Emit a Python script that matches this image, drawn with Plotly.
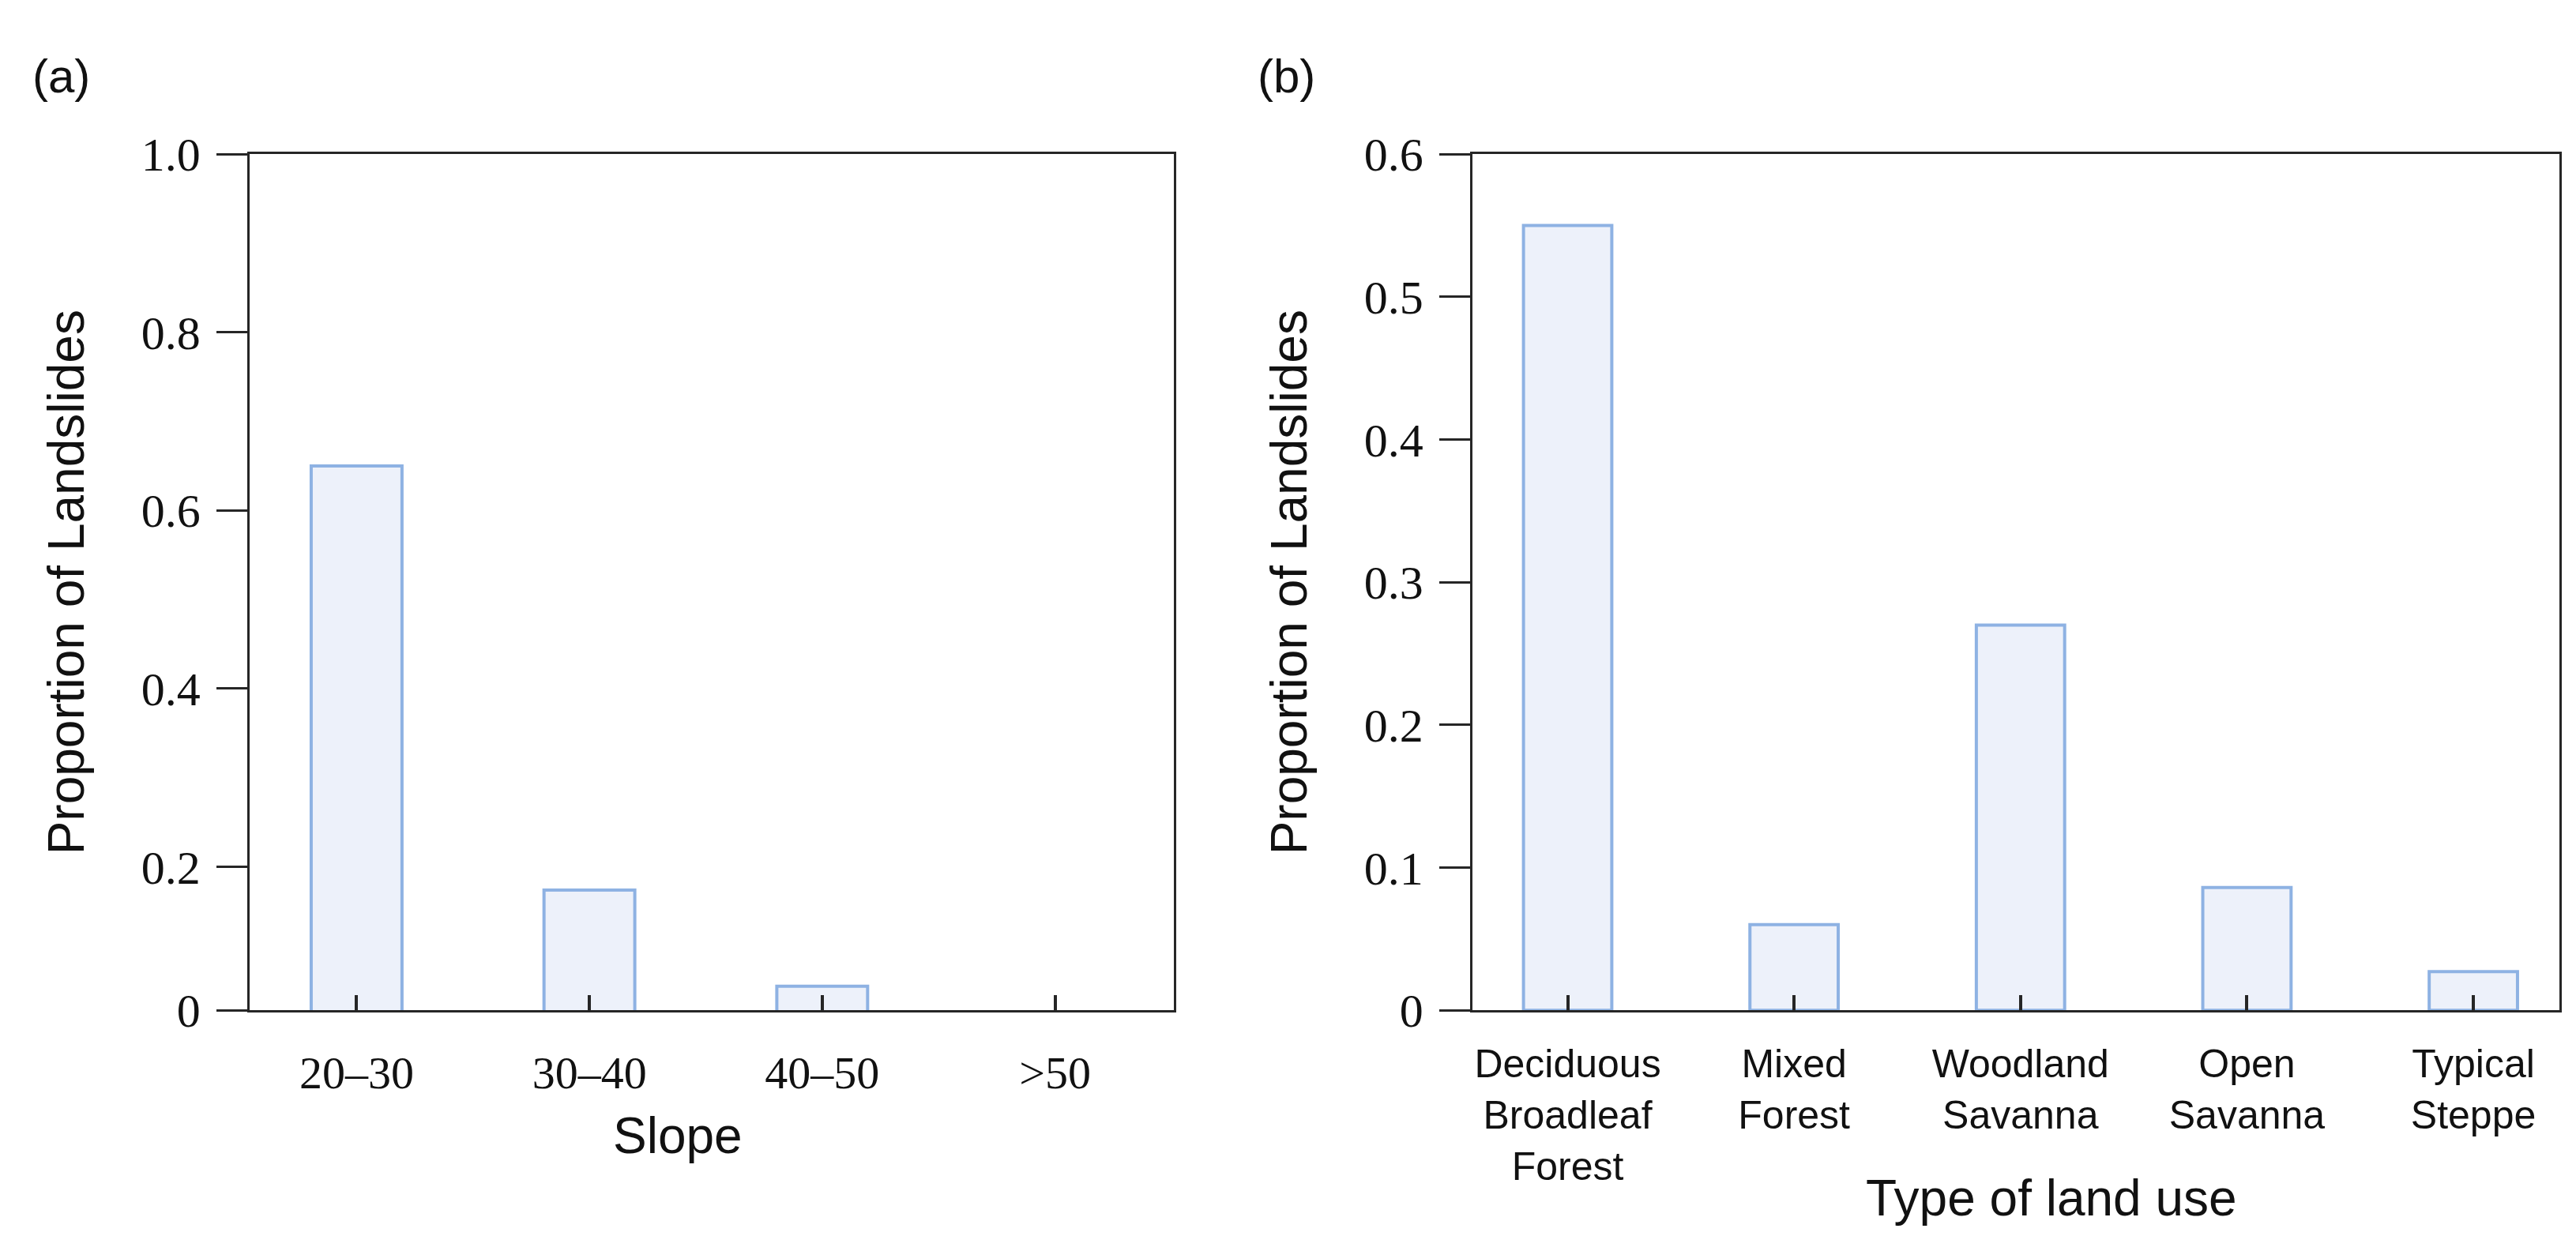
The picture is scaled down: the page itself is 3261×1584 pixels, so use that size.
import plotly.graph_objects as go

# panel (a): proportion of landslides by slope class
slope_classes = ["20–30", "30–40", "40–50", ">50"]
slope_share = [0.65, 0.174, 0.066, 0.0]
# the source axis starts a little above zero although its bottom tick reads "0"
slope_axis_floor = 0.039
slope_yticks = [slope_axis_floor, 0.2, 0.4, 0.6, 0.8, 1.0]
slope_yticktext = ["0", "0.2", "0.4", "0.6", "0.8", "1.0"]

# panel (b): proportion of landslides by land use type
landuse_types = ["Deciduous<br>Broadleaf<br>Forest", "Mixed<br>Forest",
                 "Woodland<br>Savanna", "Open<br>Savanna", "Typical<br>Steppe"]
landuse_share = [0.55, 0.06, 0.27, 0.086, 0.027]
landuse_yticks = [0, 0.1, 0.2, 0.3, 0.4, 0.5, 0.6]
landuse_yticktext = ["0", "0.1", "0.2", "0.3", "0.4", "0.5", "0.6"]

SERIF = "Liberation Serif, Times New Roman, serif"
SANS = "Liberation Sans, Arial, sans-serif"
AXIS = "#262626"
TEXT = "#111"
BAR_FILL = "#EDF1FA"
BAR_LINE = "#8EB2E3"

bar_style = dict(marker=dict(color=BAR_FILL, line=dict(color=BAR_LINE, width=4)),
                 width=0.39, showlegend=False)

fig = go.Figure()
fig.add_trace(go.Bar(x=slope_classes, y=slope_share, xaxis="x", yaxis="y", **bar_style))
fig.add_trace(go.Bar(x=landuse_types, y=landuse_share, xaxis="x2", yaxis="y2", **bar_style))

common_x = dict(type="category", showline=True, linecolor=AXIS, linewidth=3, mirror=True,
                ticks="inside", ticklen=19, tickwidth=4, tickcolor=AXIS,
                showgrid=False, zeroline=False)
common_y = dict(showline=True, linecolor=AXIS, linewidth=3, mirror=True,
                ticks="outside", ticklen=39, tickwidth=3, tickcolor=AXIS,
                tickfont=dict(family=SERIF, size=60, color=TEXT),
                showgrid=False, zeroline=False, ticklabelstandoff=8)
ytitle_font = dict(family=SANS, size=64, color=TEXT)

fig.update_layout(
    width=3261, height=1584,
    margin=dict(l=0, r=0, t=0, b=0),
    paper_bgcolor="white", plot_bgcolor="white",
    xaxis=dict(domain=[0.0944, 0.4532], range=[-0.46, 3.51],
               tickfont=dict(family=SERIF, size=58, color=TEXT),
               ticklabelstandoff=26, anchor="y", **common_x),
    yaxis=dict(domain=[0.1837, 0.8977], range=[slope_axis_floor, 1.0],
               tickvals=slope_yticks, ticktext=slope_yticktext,
               title=dict(text="Proportion of Landslides", font=ytitle_font, standoff=52),
               anchor="x", **common_y),
    xaxis2=dict(domain=[0.5691, 0.9911], range=[-0.421, 4.38],
                tickfont=dict(family=SANS, size=50, color=TEXT),
                ticklabelstandoff=22, anchor="y2", **common_x),
    yaxis2=dict(domain=[0.1837, 0.8977], range=[0, 0.6],
                tickvals=landuse_yticks, ticktext=landuse_yticktext,
                title=dict(text="Proportion of Landslides", font=ytitle_font, standoff=52),
                anchor="x2", **common_y),
)

# x axis titles sit slightly off-centre in the source, so place them as annotations
for text, xref, xpos, ypos in (("Slope", "x domain", 0.463, 0.079),
                               ("Type of land use", "x2 domain", 0.533, 0.027)):
    fig.add_annotation(text=text, xref=xref, yref="paper", x=xpos, y=ypos,
                       xanchor="center", yanchor="middle", showarrow=False,
                       font=dict(family=SANS, size=64, color=TEXT))

for label, xpos in (("(a)", 0.0095), ("(b)", 0.4851)):
    fig.add_annotation(text=label, xref="paper", yref="paper", x=xpos, y=0.963,
                       xanchor="left", yanchor="middle", showarrow=False,
                       font=dict(family=SANS, size=60, color=TEXT))

fig.write_html("out.html")
